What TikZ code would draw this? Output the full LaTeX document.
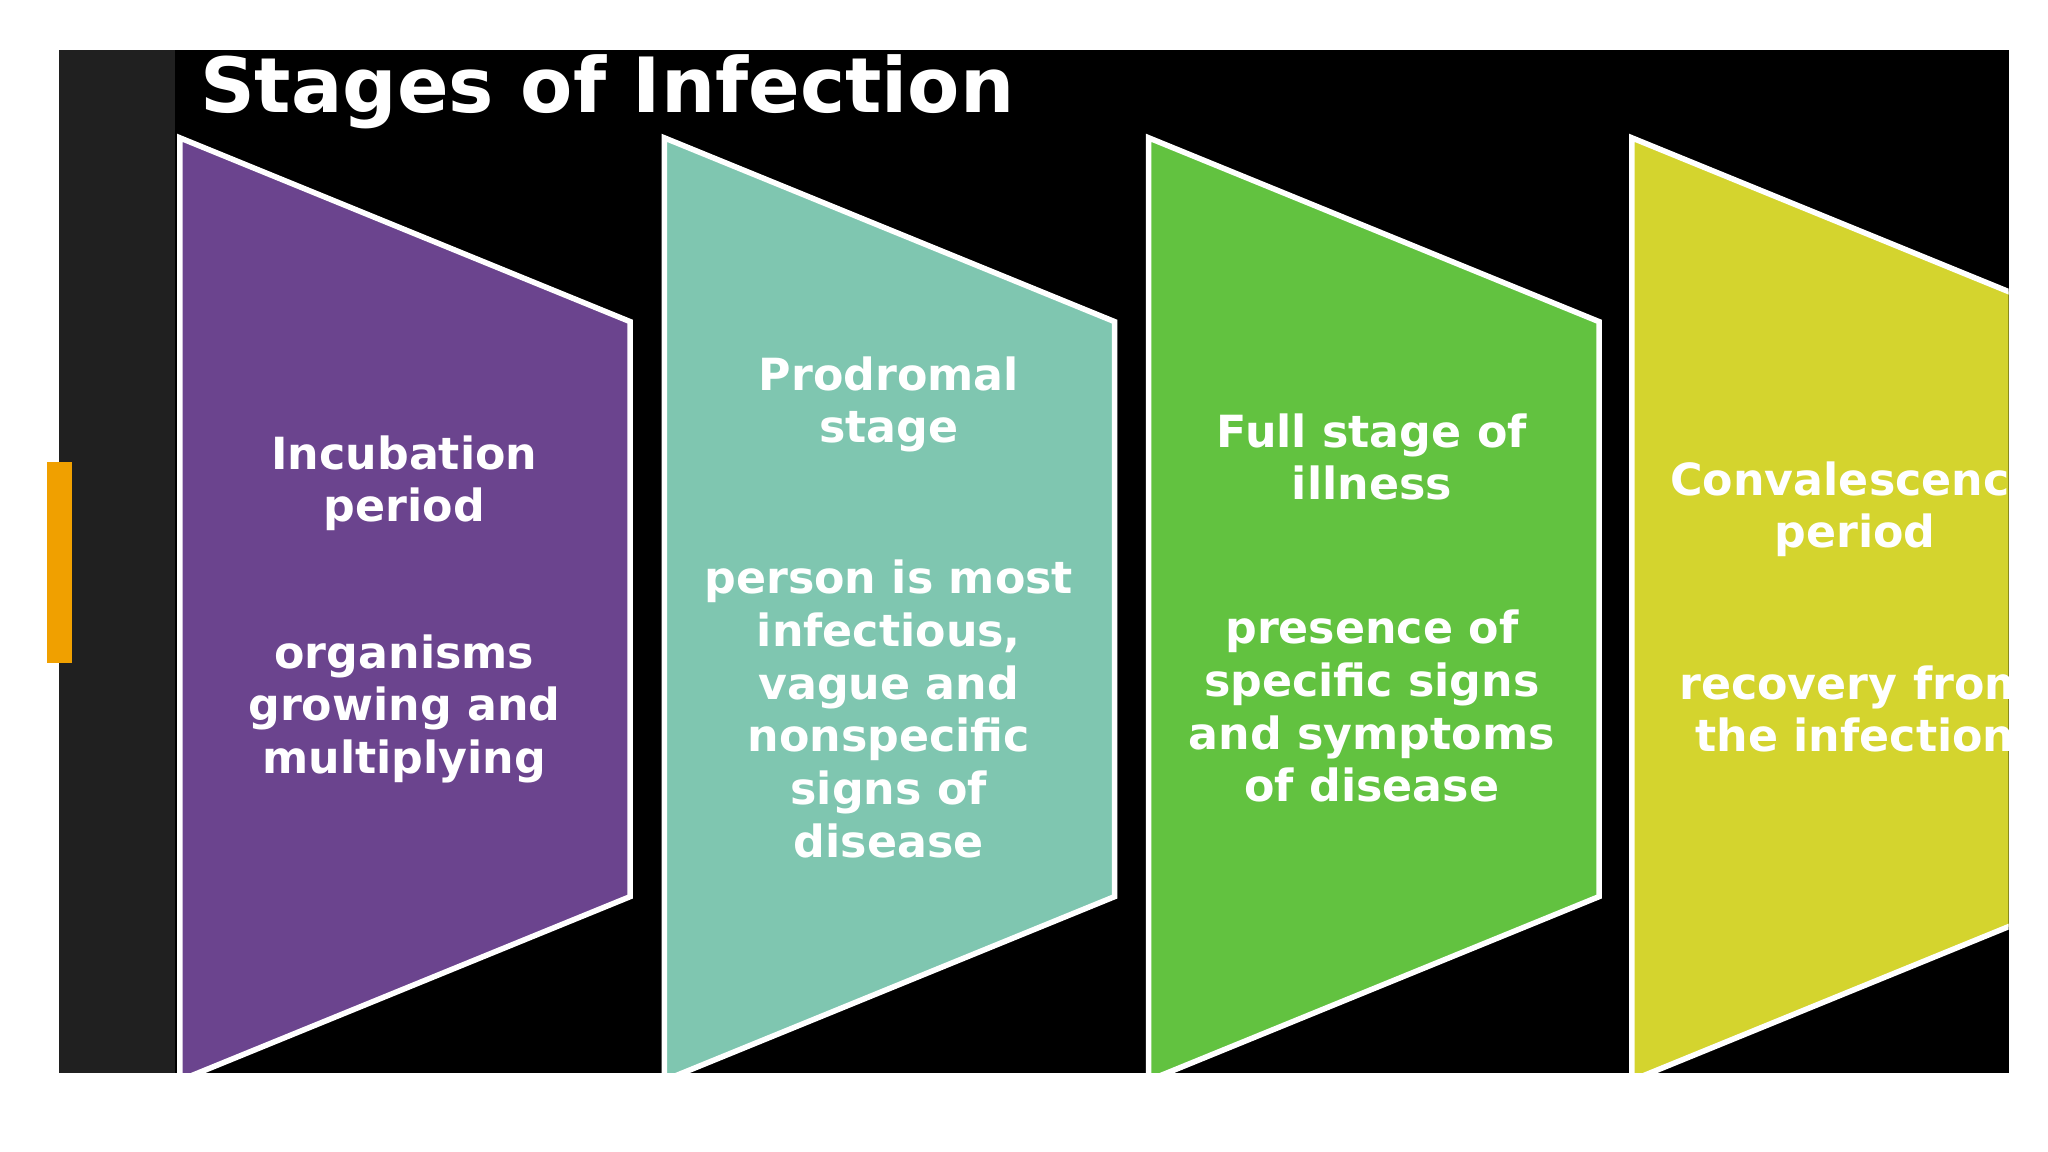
\documentclass[tikz,border=0pt]{standalone}
\usepackage{fontspec}
\setmainfont{DejaVu Sans}
\usetikzlibrary{positioning}
\definecolor{stageA}{HTML}{6B448E}
\definecolor{stageB}{HTML}{7FC6B0}
\definecolor{stageC}{HTML}{62C240}
\definecolor{stageD}{HTML}{D4D42E}
\definecolor{darkstrip}{HTML}{202020}
\definecolor{markbar}{HTML}{F0A000}
\tikzset{
  chevron/.style={draw=white, line width=1.2pt, line join=miter},
  stagetext/.style={text=white, font=\bfseries\fontsize{9.6}{11.4}\selectfont, align=center},
}
\begin{document}
\begin{tikzpicture}[x=0.01cm, y=-0.01cm]
  \useasboundingbox (0,0) rectangle (1560,877);
  % background
  \fill[white] (0,0) rectangle (1560,877);
  \fill[black] (45,38) rectangle (1530,817);
  \fill[darkstrip] (45,38) rectangle (133,817);
  \fill[markbar] (36,352) rectangle (55,505);

  % title
  \node[anchor=west, text=white, font=\bfseries\fontsize{16.5}{18}\selectfont] (title) at (140,70) {Stages of Infection};

  % chevrons
  \begin{scope}
    \clip (45,38) rectangle (1530,817);
    \foreach \x/\c in {137/stageA, 506/stageB, 875/stageC, 1243/stageD}
      \draw[chevron, fill=\c] (\x,105) -- ++(343,140) -- ++(0,438) -- ++(-343,140) -- ++(0,4) -- cycle;
  \end{scope}

  % texts
  \node[stagetext] (headA) at (308,368) {Incubation\\period};
  \node[stagetext] (descA) at (308,540) {organisms\\growing and\\multiplying};
  \node[stagetext] (headB) at (677,308) {Prodromal\\stage};
  \node[stagetext] (descB) at (677,540) {person is most\\infectious,\\vague and\\nonspecific\\signs of\\disease};
  \node[stagetext] (headC) at (1045,348) {Full stage of\\illness};
  \node[stagetext] (descC) at (1045,538) {presence of\\specific signs\\and symptoms\\of disease};
  \begin{scope}
    \clip (45,38) rectangle (1530,817);
    \node[stagetext] (headD) at (1413,388) {Convalescence\\period};
    \node[stagetext] (descD) at (1413,540) {recovery from\\the infection};
  \end{scope}
\end{tikzpicture}
\end{document}
